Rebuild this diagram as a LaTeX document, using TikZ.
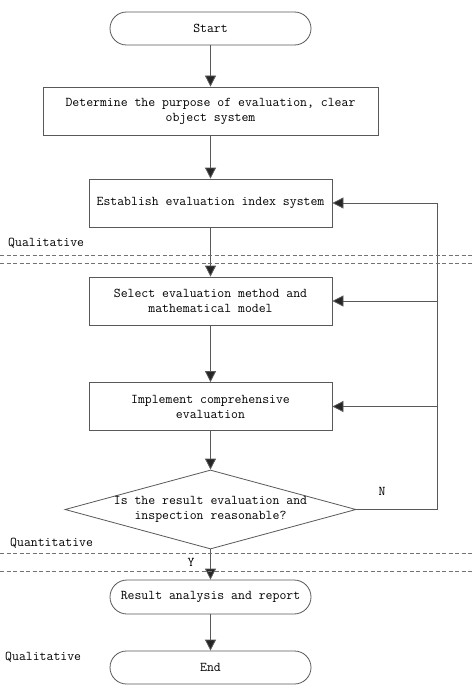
\documentclass[tikz,border=0pt]{standalone}
\usetikzlibrary{arrows.meta,shapes.geometric}
\begin{document}
\begin{tikzpicture}[x=1bp,y=-1bp,
  every node/.style={font=\ttfamily\fontsize{13.4bp}{15bp}\selectfont, text=black},
  ln/.style={draw=black!65, line width=0.8bp},
  box/.style={ln, rectangle, minimum width=243bp, minimum height=48bp, inner sep=0pt, align=center},
  term/.style={ln, rectangle, rounded corners=16.5bp, minimum width=201bp, minimum height=33bp, inner sep=0pt, align=center},
  arr/.style={ln, -{Triangle[width=11bp,length=11bp,fill=black!85]}},
  sep/.style={draw=black!55, line width=0.7bp, dash pattern=on 4bp off 2.5bp},
  lbl/.style={anchor=west, inner sep=0pt}]
\useasboundingbox (0,0) rectangle (474,697);
\fill[white] (0,0) rectangle (474,697);

\node[term] (start) at (210.5,28.5) {Start};
\node[box, minimum width=335bp] (b1) at (210.5,111) {Determine the purpose of evaluation, clear\\object system};
\node[box] (b2) at (210.5,203) {Establish evaluation index system};
\node[box] (b3) at (210.5,301) {Select evaluation method and\\mathematical model};
\node[box] (b4) at (210.5,406.5) {Implement comprehensive\\evaluation};
\node[ln, diamond, aspect=3.68, minimum width=291bp, minimum height=79bp, inner sep=0pt] (dia) at (210.5,509.5) {};
\node[align=center] (diat) at (210.5,509.5) {Is the result evaluation and\\inspection reasonable?};
\node[term, minimum height=34bp, rounded corners=17bp] (res) at (210.5,597) {Result analysis and report};
\node[term] (end) at (210.5,667.5) {End};

\draw[arr] (start) -- (b1);
\draw[arr] (b1) -- (b2);
\draw[arr] (b2) -- (b3);
\draw[arr] (b3) -- (b4);
\draw[arr] (b4) -- (dia);
\draw[arr] (dia) -- (res);
\draw[arr] (res) -- (end);

\coordinate (fb) at (437,509.5);
\draw[ln] (dia.east) -- (fb);
\draw[arr] (fb) |- (b2.east);
\draw[arr] (fb |- b3.east) -- (b3.east);
\draw[arr] (fb |- b4.east) -- (b4.east);

\coordinate (l1a) at (0,255); \coordinate (l1b) at (474,255);
\coordinate (l2a) at (0,263); \coordinate (l2b) at (474,263);
\coordinate (l3a) at (0,553); \coordinate (l3b) at (474,553);
\coordinate (l4a) at (0,571); \coordinate (l4b) at (474,571);
\draw[sep] (l1a) -- (l1b);
\draw[sep] (l2a) -- (l2b);
\draw[sep] (l3a) -- (l3b);
\draw[sep] (l4a) -- (l4b);

\node[lbl] (q1) at (8,243) {Qualitative};
\node[lbl] (q2) at (10,543) {Quantitative};
\node[lbl] (q3) at (5,657) {Qualitative};
\node (n) at (382,491) {N};
\node (y) at (191,562) {Y};
\end{tikzpicture}
\end{document}
